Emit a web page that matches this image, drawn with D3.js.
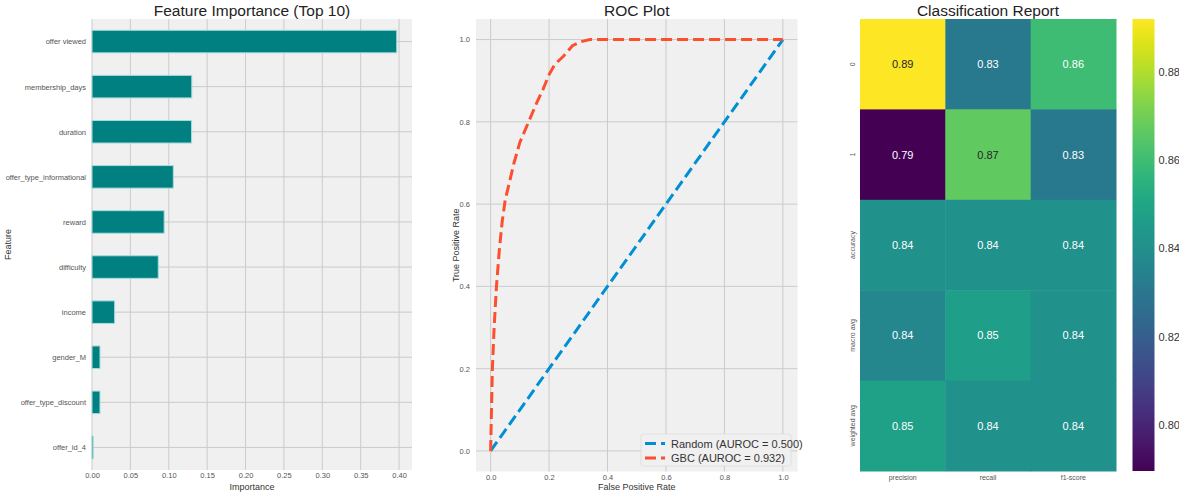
<!DOCTYPE html>
<html><head><meta charset="utf-8">
<script src="https://cdn.jsdelivr.net/npm/d3@7"></script>
<style>body{margin:0;background:#fff;} text{font-family:"Liberation Sans",Arial,sans-serif;}</style>
</head><body>
<svg id="c" width="1179" height="493"></svg>
<script>
// ---------- data ----------
const features = ["offer viewed","membership_days","duration","offer_type_informational","reward","difficulty","income","gender_M","offer_type_discount","offer_id_4"];
const importance = [0.397,0.1300,0.1297,0.1059,0.0940,0.0863,0.0295,0.0104,0.0104,0.0015];
const impTicks = [0,0.05,0.10,0.15,0.20,0.25,0.30,0.35,0.40];

const rocFpr = [0,0.003,0.006,0.012,0.02,0.03,0.04,0.05,0.065,0.08,0.10,0.13,0.16,0.18,0.20,0.22,0.25,0.28,0.31,0.34,1.0];
const rocTpr = [0,0.10,0.20,0.30,0.40,0.49,0.56,0.61,0.655,0.70,0.75,0.80,0.85,0.88,0.915,0.94,0.96,0.985,0.995,1.0,1.0];
const randFpr = [0,1];
const randTpr = [0,1];
const rocTicks = [0,0.2,0.4,0.6,0.8,1.0];
const legendLabels = ["Random (AUROC = 0.500)","GBC (AUROC = 0.932)"];

const reportRows = ["0","1","accuracy","macro avg","weighted avg"];
const reportCols = ["precision","recall","f1-score"];
const reportVals = [
  [0.892,0.831,0.860],
  [0.7895,0.867,0.831],
  [0.841,0.841,0.841],
  [0.837,0.8465,0.841],
  [0.848,0.841,0.841]
];
const cbarTicks = [0.80,0.82,0.84,0.86,0.88];

// ---------- drawing ----------
const svg = d3.select("#c");
const grid = "#cbcbcb", bg = "#f0f0f0", tickCol = "#555", fs = 7.5;

function title(x, y, t){
  svg.append("text").attr("x",x).attr("y",y).attr("text-anchor","middle")
    .attr("font-size",15.5).attr("fill","#222").text(t);
}

// ----- Panel 1: Feature importance -----
{
  const L=92,R=412,T=19,B=470;
  const x = d3.scaleLinear().domain([0,0.397*1.05]).range([L,R]);
  const y = d3.scaleLinear().domain([-0.5,9.5]).range([T,B]);
  const g = svg.append("g");
  g.append("rect").attr("x",L).attr("y",T).attr("width",R-L).attr("height",B-T).attr("fill",bg);
  g.selectAll(".vg").data(impTicks).join("line").attr("x1",d=>x(d)).attr("x2",d=>x(d))
    .attr("y1",T).attr("y2",B).attr("stroke",grid).attr("stroke-width",1);
  g.selectAll(".hg").data(features).join("line").attr("x1",L).attr("x2",R)
    .attr("y1",(d,i)=>y(i)).attr("y2",(d,i)=>y(i)).attr("stroke",grid).attr("stroke-width",1);
  g.selectAll(".bar").data(importance).join("rect")
    .attr("x",x(0)).attr("y",(d,i)=>y(i-0.25)).attr("width",d=>x(d)-x(0)).attr("height",y(0.25)-y(-0.25))
    .attr("fill","#008080").attr("stroke","#a8dcdc").attr("stroke-width",1);
  const xa = d3.axisBottom(x).tickValues(impTicks).tickFormat(d3.format(".2f")).tickSize(0).tickPadding(3);
  const ax = g.append("g").attr("transform",`translate(0,${B})`).call(xa);
  ax.select(".domain").remove();
  ax.selectAll("text").attr("font-size",fs).attr("fill",tickCol).attr("font-family","Liberation Sans, Arial");
  const ya = d3.axisLeft(y).tickValues(d3.range(features.length)).tickFormat(i=>features[i]).tickSize(0).tickPadding(6);
  const ay = g.append("g").attr("transform",`translate(${L},0)`).call(ya);
  ay.select(".domain").remove();
  ay.selectAll("text").attr("font-size",fs).attr("fill",tickCol).attr("font-family","Liberation Sans, Arial");
  g.append("text").attr("x",(L+R)/2).attr("y",490).attr("text-anchor","middle").attr("font-size",9).attr("fill","#333").text("Importance");
  g.append("text").attr("transform",`translate(11,${(T+B)/2}) rotate(-90)`).attr("text-anchor","middle").attr("font-size",9).attr("fill","#333").text("Feature");
  title((L+R)/2, 16, "Feature Importance (Top 10)");
}

// ----- Panel 2: ROC -----
{
  const L=476,R=797.5,T=19,B=471.5;
  const x = d3.scaleLinear().domain([-0.05,1.05]).range([L,R]);
  const y = d3.scaleLinear().domain([-0.05,1.05]).range([B,T]);
  const g = svg.append("g");
  g.append("rect").attr("x",L).attr("y",T).attr("width",R-L).attr("height",B-T).attr("fill",bg);
  g.selectAll(".vg").data(rocTicks).join("line").attr("x1",d=>x(d)).attr("x2",d=>x(d))
    .attr("y1",T).attr("y2",B).attr("stroke",grid);
  g.selectAll(".hg").data(rocTicks).join("line").attr("x1",L).attr("x2",R)
    .attr("y1",d=>y(d)).attr("y2",d=>y(d)).attr("stroke",grid);
  const line = d3.line().x(d=>x(d[0])).y(d=>y(d[1]));
  g.append("path").datum(randFpr.map((f,i)=>[f,randTpr[i]])).attr("d",line).attr("fill","none")
    .attr("stroke","#008fd5").attr("stroke-width",3).attr("stroke-dasharray","11,5");
  g.append("path").datum(rocFpr.map((f,i)=>[f,rocTpr[i]])).attr("d",line).attr("fill","none")
    .attr("stroke","#fc4f30").attr("stroke-width",3).attr("stroke-dasharray","11,5");
  const xa = d3.axisBottom(x).tickValues(rocTicks).tickFormat(d3.format(".1f")).tickSize(0).tickPadding(3);
  const ax = g.append("g").attr("transform",`translate(0,${B})`).call(xa);
  ax.select(".domain").remove();
  ax.selectAll("text").attr("font-size",fs).attr("fill",tickCol).attr("font-family","Liberation Sans, Arial");
  const ya = d3.axisLeft(y).tickValues(rocTicks).tickFormat(d3.format(".1f")).tickSize(0).tickPadding(6);
  const ay = g.append("g").attr("transform",`translate(${L},0)`).call(ya);
  ay.select(".domain").remove();
  ay.selectAll("text").attr("font-size",fs).attr("fill",tickCol).attr("font-family","Liberation Sans, Arial");
  g.append("text").attr("x",x(0.5)).attr("y",490).attr("text-anchor","middle").attr("font-size",9).attr("fill","#333").text("False Positive Rate");
  g.append("text").attr("transform",`translate(459,${(T+B)/2}) rotate(-90)`).attr("text-anchor","middle").attr("font-size",9).attr("fill","#333").text("True Positive Rate");
  title(x(0.5), 16, "ROC Plot");
  // legend
  const lg = g.append("g");
  lg.append("rect").attr("x",641).attr("y",434).attr("width",150).attr("height",32).attr("rx",2)
    .attr("fill","#f0f0f0").attr("stroke","#dcdcdc").attr("stroke-width",0.8);
  const cols = ["#008fd5","#fc4f30"];
  legendLabels.forEach((t,i)=>{
    const yy = 443.5 + i*14.5;
    lg.append("line").attr("x1",645).attr("x2",665).attr("y1",yy).attr("y2",yy)
      .attr("stroke",cols[i]).attr("stroke-width",3).attr("stroke-dasharray","11,5");
    lg.append("text").attr("x",671).attr("y",yy+4).attr("font-size",11).attr("fill","#333").text(t);
  });
}

// ----- Panel 3: Classification report heatmap -----
{
  const L=860,R=1116,T=19,B=471;
  const vmin=0.7895, vmax=0.892;
  const color = d3.scaleSequential(d3.interpolateViridis).domain([vmin,vmax]);
  const x = d3.scaleBand().domain(reportCols).range([L,R]);
  const y = d3.scaleBand().domain(reportRows).range([T,B]);
  const g = svg.append("g");
  const cells = [];
  reportVals.forEach((row,i)=>row.forEach((v,j)=>cells.push({r:reportRows[i],c:reportCols[j],v})));
  g.selectAll(".cell").data(cells).join("rect")
    .attr("x",d=>x(d.c)).attr("y",d=>y(d.r)).attr("width",x.bandwidth()+0.5).attr("height",y.bandwidth()+0.5)
    .attr("fill",d=>color(d.v));
  g.selectAll(".ann").data(cells).join("text")
    .attr("x",d=>x(d.c)+x.bandwidth()/2).attr("y",d=>y(d.r)+y.bandwidth()/2+4)
    .attr("text-anchor","middle").attr("font-size",11)
    .attr("fill",d=>((d.v-vmin)/(vmax-vmin))>0.72 ? "#262626" : "#ffffff")
    .text(d=>d3.format(".2f")(d.v));
  const xa = d3.axisBottom(x).tickSize(0).tickPadding(4);
  const ax = g.append("g").attr("transform",`translate(0,${B})`).call(xa);
  ax.select(".domain").remove();
  ax.selectAll("text").attr("font-size",fs-0.5).attr("fill",tickCol).attr("font-family","Liberation Sans, Arial");
  reportRows.forEach(r=>{
    g.append("text").attr("transform",`translate(855,${y(r)+y.bandwidth()/2}) rotate(-90)`)
      .attr("text-anchor","middle").attr("font-size",fs-0.5).attr("fill",tickCol).text(r);
  });
  title((L+R)/2, 16, "Classification Report");
  // colorbar
  const cx=1132.5, cw=22;
  const cy = d3.scaleLinear().domain([vmin,vmax]).range([B,T]);
  const defs = svg.append("defs");
  const grad = defs.append("linearGradient").attr("id","vir").attr("x1",0).attr("y1",1).attr("x2",0).attr("y2",0);
  d3.range(0,1.0001,0.05).forEach(t=>grad.append("stop").attr("offset",t).attr("stop-color",d3.interpolateViridis(t)));
  g.append("rect").attr("x",cx).attr("y",T).attr("width",cw).attr("height",B-T).attr("fill","url(#vir)");
  const ca = d3.axisRight(cy).tickValues(cbarTicks).tickFormat(d3.format(".2f")).tickSize(0).tickPadding(4);
  const cax = g.append("g").attr("transform",`translate(${cx+cw},0)`).call(ca);
  cax.select(".domain").remove();
  cax.selectAll("text").attr("font-size",11).attr("fill","#333").attr("font-family","Liberation Sans, Arial");
}
</script>
</body></html>
